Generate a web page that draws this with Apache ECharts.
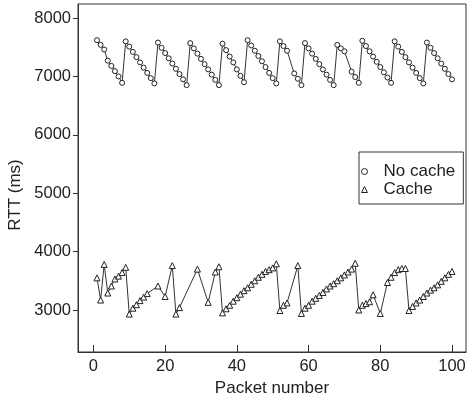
<!DOCTYPE html>
<html><head><meta charset="utf-8">
<script src="https://cdn.jsdelivr.net/npm/echarts@6/dist/echarts.min.js"></script>
<style>html,body{margin:0;padding:0;background:#fff}#c{width:474px;height:396px}</style>
</head><body><div id="c"></div>
<script>
const xTicks = [0, 20, 40, 60, 80, 100];
const yTicks = [3000, 4000, 5000, 6000, 7000, 8000];
const seriesNames = ['No cache', 'Cache'];

const noCachePackets = [
  1,2,3,4,5,6,7,8,
  9,10,11,12,13,14,15,16,17,
  18,19,20,21,22,23,24,25,26,
  27,28,29,30,31,32,33,34,35,
  36,37,38,39,40,41,42,
  43,44,45,46,47,48,49,50,51,
  52,53,54,56,57,58,
  59,60,61,62,63,64,65,66,67,
  68,69,70,72,73,74,
  75,76,77,78,79,80,81,82,83,
  84,85,86,87,88,89,90,91,92,
  93,94,95,96,97,98,99,100
];
const noCacheRtt = [
  7620,7540,7460,7270,7180,7090,7000,6890,
  7600,7510,7420,7330,7240,7150,7060,6970,6880,
  7580,7490,7400,7310,7220,7130,7040,6950,6850,
  7570,7480,7390,7300,7210,7120,7030,6940,6850,
  7560,7450,7340,7240,7120,7010,6900,
  7620,7530,7440,7350,7260,7160,7060,6970,6880,
  7600,7520,7440,7050,6960,6850,
  7570,7480,7390,7300,7210,7120,7030,6940,6850,
  7540,7480,7430,7080,6990,6890,
  7610,7520,7430,7340,7250,7160,7070,6980,6890,
  7600,7510,7420,7330,7240,7150,7060,6970,6880,
  7580,7490,7400,7310,7220,7130,7040,6950
];

const cachePackets = [
  1,2,3,4,5,6,7,8,9,10,11,12,13,14,15,18,20,22,23,24,29,32,34,35,
  36,37,38,39,40,41,42,43,44,45,46,47,48,49,50,51,
  52,53,54,57,58,
  59,60,61,62,63,64,65,66,67,68,69,70,71,72,73,
  74,75,76,77,78,80,
  82,83,84,85,86,87,
  88,89,90,91,92,93,94,95,96,97,98,99,100
];
const cacheRtt = [
  3550,3170,3780,3290,3410,3530,3580,3640,3730,2930,3030,3090,3160,3220,3280,3410,3230,3760,2930,3040,3700,3130,3650,3740,
  2950,3020,3080,3150,3210,3270,3330,3380,3440,3500,3560,3610,3660,3690,3720,3790,
  2990,3080,3120,3760,2940,
  3030,3080,3150,3200,3250,3300,3360,3410,3450,3500,3550,3600,3650,3700,3800,
  3000,3080,3110,3140,3260,2940,
  3470,3560,3640,3690,3710,3710,
  2990,3060,3120,3170,3230,3290,3340,3380,3430,3490,3550,3610,3660
];

const ink = '#222';
const font = '"Liberation Sans", Arial, Helvetica, sans-serif';

const chart = echarts.init(document.getElementById('c'), null, {renderer: 'canvas'});
chart.setOption({
  animation: false,
  backgroundColor: '#fff',
  textStyle: {fontFamily: font, color: ink},
  grid: {left: 78, right: 8, top: 4, bottom: 44, show: true, borderColor: '#333', borderWidth: 1,
         containLabel: false, outerBoundsMode: 'none'},
  legend: {
    orient: 'vertical',
    left: 359, top: 152,
    padding: [11, 8, 6, 2],
    itemGap: 1,
    itemWidth: 6, itemHeight: 6,
    borderColor: '#333', borderWidth: 1, borderRadius: 0,
    backgroundColor: '#fff',
    textStyle: {fontSize: 17, color: ink, fontFamily: font, padding: [0, 0, 0, 11]},
    data: [
      {name: seriesNames[0], icon: 'circle', itemStyle: {color: '#fff', borderColor: ink, borderWidth: 1}},
      {name: seriesNames[1], icon: 'triangle', itemStyle: {color: '#fff', borderColor: ink, borderWidth: 1}}
    ]
  },
  xAxis: {
    type: 'value', min: -4.3, max: 103.9,
    name: 'Packet number', nameLocation: 'middle', nameGap: 24,
    nameTextStyle: {fontSize: 17, color: ink, fontFamily: font},
    axisLine: {show: true, onZero: false, lineStyle: {color: '#333', width: 1}},
    axisTick: {show: true, inside: true, length: 7, customValues: xTicks, lineStyle: {color: '#333'}},
    axisLabel: {fontSize: 16.5, color: ink, margin: 6, customValues: xTicks, fontFamily: font,
                formatter: v => String(v)},
    splitLine: {show: false}
  },
  yAxis: {
    type: 'value', min: 2280, max: 8240,
    name: 'RTT (ms)', nameLocation: 'middle', nameGap: 52, nameRotate: 90,
    nameTextStyle: {fontSize: 17, color: ink, fontFamily: font, padding: [0, 34, 0, 0]},
    axisLine: {show: true, onZero: false, lineStyle: {color: '#333', width: 1}},
    axisTick: {show: true, inside: false, length: 5, customValues: yTicks, lineStyle: {color: '#333'}},
    axisLabel: {fontSize: 16.5, color: ink, margin: 7, customValues: yTicks, fontFamily: font,
                formatter: v => String(v)},
    splitLine: {show: false}
  },
  series: [
    {
      name: seriesNames[0], type: 'line',
      data: noCachePackets.map((p, i) => [p, noCacheRtt[i]]),
      symbol: 'circle', symbolSize: 5,
      itemStyle: {color: '#fff', borderColor: ink, borderWidth: 1},
      lineStyle: {color: '#333', width: 1}
    },
    {
      name: seriesNames[1], type: 'line',
      data: cachePackets.map((p, i) => [p, cacheRtt[i]]),
      symbol: 'triangle', symbolSize: 6,
      itemStyle: {color: '#fff', borderColor: ink, borderWidth: 1},
      lineStyle: {color: '#333', width: 1}
    }
  ]
});
</script>
</body></html>
